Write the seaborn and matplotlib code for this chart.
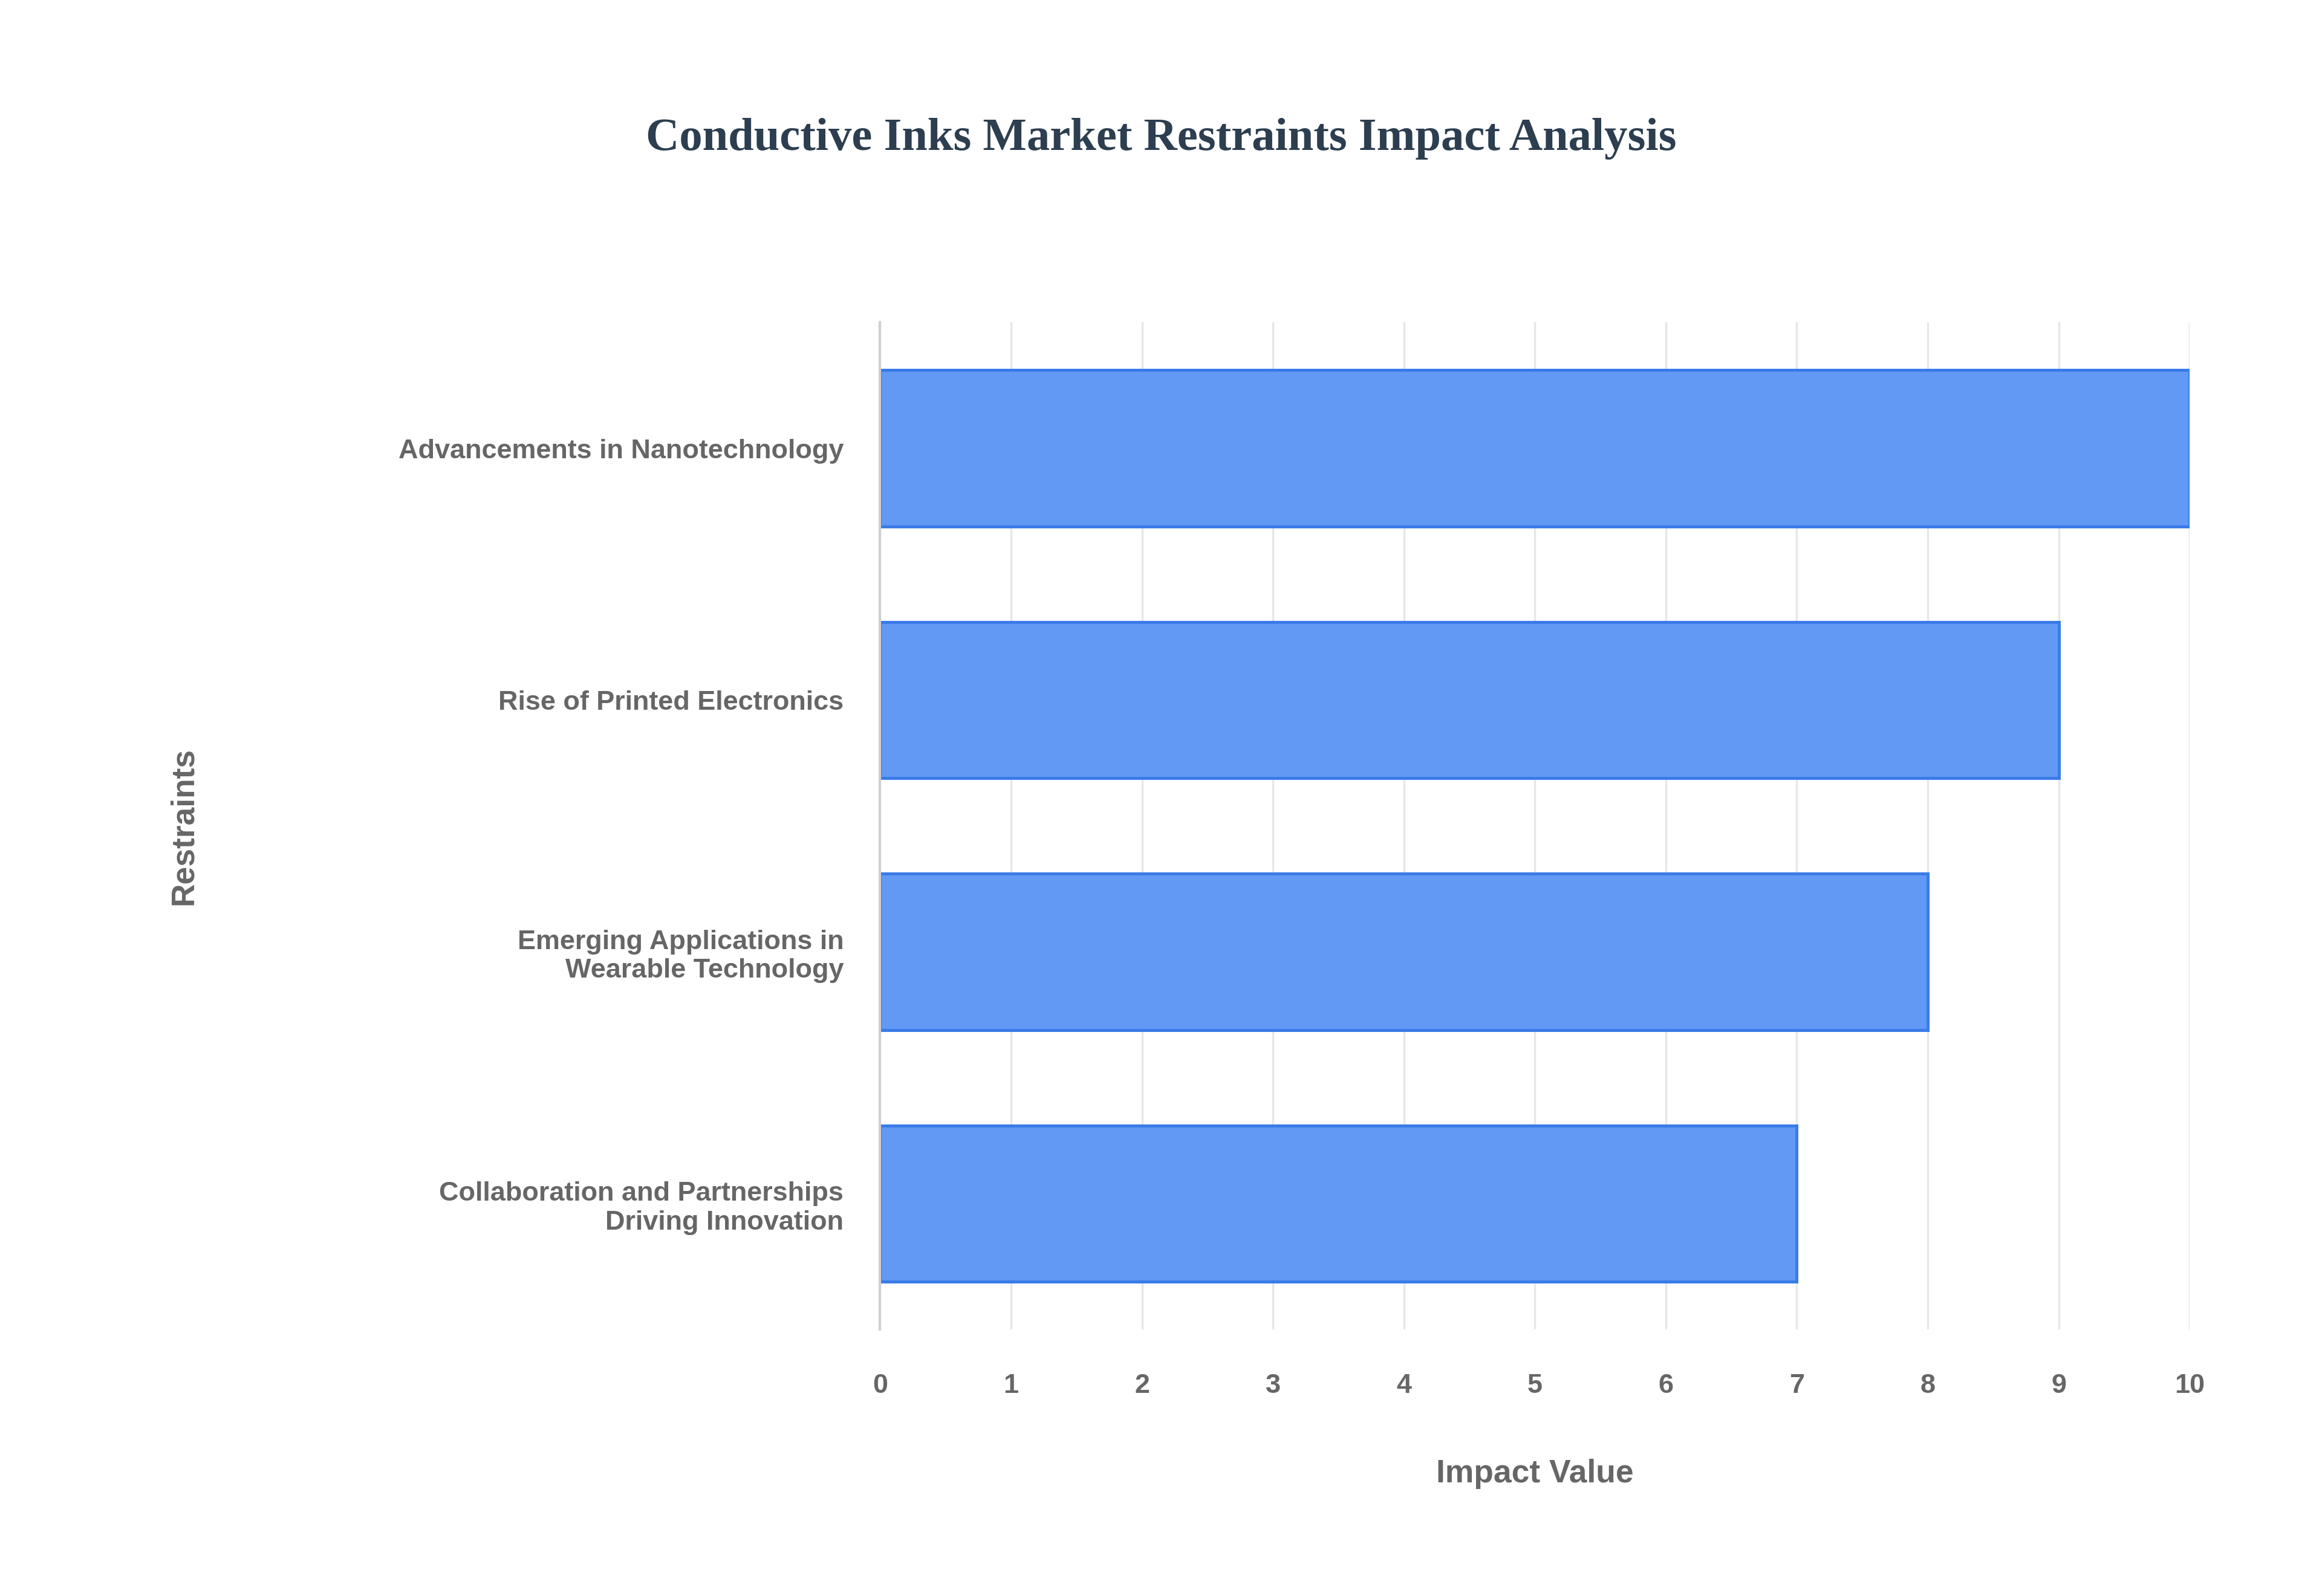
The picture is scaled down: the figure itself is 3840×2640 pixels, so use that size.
import matplotlib
matplotlib.use("Agg")
import matplotlib.pyplot as plt
import seaborn as sns
import pandas as pd

# --- Data ---
restraints = [
    "Advancements in Nanotechnology",
    "Rise of Printed Electronics",
    "Emerging Applications in\nWearable Technology",
    "Collaboration and Partnerships\nDriving Innovation",
]
impact = [10, 9, 8, 7]
ticks = list(range(0, 11))

df = pd.DataFrame({"Restraint": restraints, "Impact": impact})

sns.set_theme(style="white")
plt.rcParams["font.family"] = ["Liberation Sans", "DejaVu Sans"]

fig = plt.figure(figsize=(16, 11), dpi=240)
ax = fig.add_axes([0.379, 0.167, 0.564, 0.631])

sns.barplot(data=df, x="Impact", y="Restraint", orient="h", ax=ax,
            color="#6199f5", edgecolor="#3b7be8", linewidth=1.5, width=0.62,
            saturation=1)

ax.set_xlim(0, 10)
ax.set_ylim(3.5, -0.5)
ax.set_xticks(ticks)
ax.grid(axis="x", color="#e6e6e6", linewidth=1)
ax.set_axisbelow(True)
for s in ["top", "right", "bottom"]:
    ax.spines[s].set_visible(False)
ax.spines["left"].set_color("#d0d0d0")
ax.tick_params(axis="both", length=0, labelsize=13.5, colors="#666666")
ax.tick_params(axis="x", pad=22)
ax.tick_params(axis="y", pad=18)
for lbl in ax.get_xticklabels() + ax.get_yticklabels():
    lbl.set_fontweight("bold")

ax.set_xlabel("Impact Value", fontsize=16, fontweight="bold", color="#666666", labelpad=30)
ax.set_ylabel("Restraints", fontsize=16, fontweight="bold", color="#666666", labelpad=0)
ax.yaxis.set_label_coords(-0.52, 0.5)

fig.text(0.5, 0.913, "Conductive Inks Market Restraints Impact Analysis",
         ha="center", va="center", fontsize=23, fontweight="bold",
         color="#2c3e50", family=["Liberation Serif", "DejaVu Serif"])

fig.savefig("out.png", dpi=240, facecolor="white")
